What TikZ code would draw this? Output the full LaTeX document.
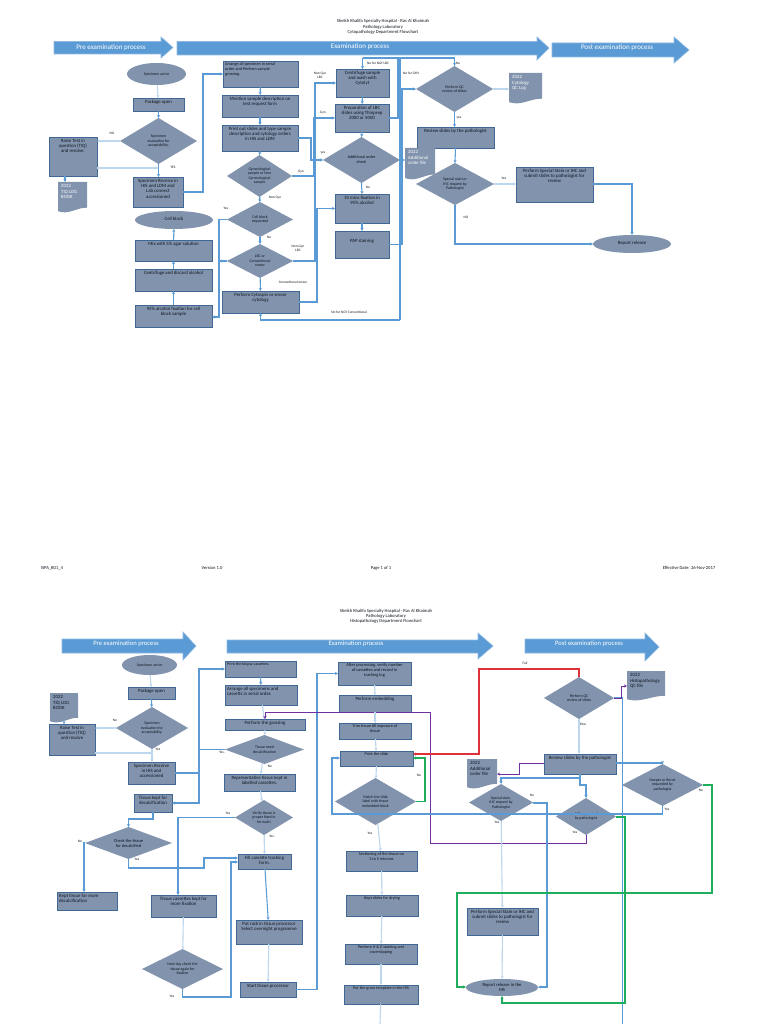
\documentclass[tikz,border=0pt]{standalone}
\usepackage{fontspec}
\setmainfont{Carlito}
\usetikzlibrary{shapes.geometric,arrows.meta}
\definecolor{boxfill}{HTML}{8193AD}
\definecolor{boxedge}{HTML}{3F6894}
\definecolor{bandblue}{HTML}{5B9BD5}
\definecolor{bandedge}{HTML}{8DB9E2}
\definecolor{linkblue}{HTML}{5B9BD5}
\definecolor{linklight}{HTML}{BDD7EE}
\definecolor{linkred}{HTML}{E0303A}
\definecolor{linkpurple}{HTML}{7030A0}
\definecolor{linkgreen}{HTML}{1FAE5C}
\definecolor{inktext}{HTML}{10161F}
\tikzset{
  boxshape/.style={rectangle,draw=boxedge,fill=boxfill,line width=.8pt,inner sep=0pt,outer sep=0pt},
  diashape/.style={diamond,fill=boxfill,inner sep=0pt,outer sep=0pt},
  ellshape/.style={ellipse,fill=boxfill,inner sep=0pt,outer sep=0pt},
  docshape/.style={rectangle,inner sep=0pt,outer sep=0pt},
  boxtxt/.style={font=\fontsize{4.8}{5.4}\selectfont,text=inktext,align=center,inner sep=1pt,yshift=-.5pt},
  smalltxt/.style={font=\fontsize{3.9}{4.5}\selectfont,text=inktext,align=center,inner sep=0pt},
  tagtxt/.style={font=\fontsize{3.5}{4.1}\selectfont,text=inktext,align=center,inner sep=0pt},
  headtxt/.style={font=\fontsize{4.6}{5.2}\selectfont,text=inktext,align=center,inner sep=0pt},
  bandtxt/.style={font=\fontsize{7}{8}\selectfont,text=white,inner sep=0pt},
  link/.style={draw=linkblue,line width=1.05pt,-{Stealth[length=3pt,width=3pt]}},
  plainlink/.style={draw=linkblue,line width=1.05pt},
  lightlink/.style={draw=linklight,line width=1.1pt,-{Stealth[length=3pt,width=3pt]}},
  redlink/.style={draw=linkred,line width=1.1pt,-{Stealth[length=3pt,width=3pt]}},
  purplelink/.style={draw=linkpurple,line width=1pt,-{Stealth[length=3pt,width=3pt]}},
  greenlink/.style={draw=linkgreen,line width=1.05pt,-{Stealth[length=3pt,width=3pt]}},
}
\newcommand\getgeo[4]{\pgfmathsetmacro\cx{(#1+#3)/2}\pgfmathsetmacro\cy{(#2+#4)/2}\pgfmathsetmacro\ww{#3-#1}\pgfmathsetmacro\hh{#4-#2}}
% [label options]{name}{x1}{y1}{x2}{y2}{text}
\newcommand\bx[7][]{\getgeo{#3}{#4}{#5}{#6}\node[boxshape,minimum width=\ww pt,minimum height=\hh pt,label={[boxtxt,anchor=north,#1]north:{#7}}] (#2) at (\cx,\cy) {};}
\newcommand\bxl[7][]{\getgeo{#3}{#4}{#5}{#6}\node[boxshape,minimum width=\ww pt,minimum height=\hh pt,label={[boxtxt,align=left,anchor=north west,xshift=1pt,#1]north west:{#7}}] (#2) at (\cx,\cy) {};}
\newcommand\dm[7][]{\getgeo{#3}{#4}{#5}{#6}\node[diashape,minimum width=\ww pt,minimum height=\hh pt,label={[smalltxt,#1]center:{#7}}] (#2) at (\cx,\cy) {};}
\newcommand\el[7][]{\getgeo{#3}{#4}{#5}{#6}\node[ellshape,minimum width=\ww pt,minimum height=\hh pt,label={[smalltxt,#1]center:{#7}}] (#2) at (\cx,\cy) {};}
% document symbol: [text colour]{name}{x1}{y1}{x2}{y2}{text}
\newcommand\docsym[7][white]{\getgeo{#3}{#4}{#5}{#6}%
  \fill[boxfill] (#3,#4) -- (#5,#4) -- (#5,#6-.17*\hh) .. controls (#5-.3*\ww,#6-.2*\hh) and (#3+.35*\ww,#6+.08*\hh) .. (#3,#6-.06*\hh) -- cycle;
  \node[docshape,minimum width=\ww pt,minimum height=\hh pt,label={[boxtxt,align=left,anchor=north west,xshift=2pt,yshift=-1pt,text=#1]north west:{#7}}] (#2) at (\cx,\cy) {};}
% band arrow: {x1}{head x}{body top}{body bottom}{head top}{head bottom}{tip x}{tip y}
\newcommand\band[8]{%
  \filldraw[fill=bandblue,draw=bandedge,line width=.6pt] (#1,#3) -- (#2,#3) -- (#2,#5) -- (#7,#8) -- (#2,#6) -- (#2,#4) -- (#1,#4) -- cycle;}
\newcommand\tagl[4]{\node[tagtxt] (#1) at (#2,#3) {#4};}
\begin{document}
\begin{tikzpicture}[x=1pt,y=-1pt]
\useasboundingbox (0,0) rectangle (768,1024);
\fill[white] (0,0) rectangle (768,1024);

% ---------- titles ----------
\node[headtxt] (title1) at (383,27) {Sheikh Khalifa Specialty Hospital - Ras Al Khaimah\\Pathology Laboratory\\Cytopathology Department Flowchart};
\node[headtxt] (title2) at (386,616.5) {Sheikh Khalifa Specialty Hospital - Ras Al Khaimah\\Pathology Laboratory\\Histopathology Department Flowchart};

% ---------- footer ----------
\node[headtxt] (foot1) at (52,568) {ISPA\_B01\_4};
\node[headtxt] (foot2) at (212,568) {Version 1.0};
\node[headtxt] (foot3) at (381,568) {Page 1 of 1};
\node[headtxt] (foot4) at (689,568) {Effective Date: 26-Nov-2017};

% ---------- bands ----------
\band{54}{161}{41.5}{54}{37}{58}{173}{47.5}
\band{177}{537}{41.5}{55}{37}{60}{549}{48}
\band{552}{674}{43}{57}{37}{63}{689}{50}
\node[bandtxt] (bandA) at (111,47.5) {Pre examination process};
\node[bandtxt] (bandB) at (360,47) {Examination process};
\node[bandtxt] (bandC) at (617,47.5) {Post examination process};
\band{62}{183}{639}{653}{632}{660}{196}{646}
\band{227}{478}{640}{653}{633}{659}{493}{646}
\band{525}{645}{639}{653}{633}{661}{659}{647}
\node[bandtxt,font=\fontsize{6.6}{8}\selectfont] (bandD) at (126,644) {Pre examination process};
\node[bandtxt,font=\fontsize{6.6}{8}\selectfont] (bandE) at (356,644) {Examination process};
\node[bandtxt,font=\fontsize{6.6}{8}\selectfont] (bandF) at (589,644) {Post examination process};

% ========== TOP FLOWCHART ==========
\el{tArrive}{127}{63}{186}{85}{Specimen arrive}
\bx{tPack}{133}{98}{184}{111}{Package open}
\dm{tEval}{120}{118}{197}{164}{Specimen\\evaluation for\\acceptability.}
\bx{tRaise}{49}{137}{97}{176}{Raise Test in\\question (TIQ)\\and resolve.}
\docsym{tLog}{58}{182}{87}{213}{2022\\ TIQ LOG\\BOOK}
\bx{tRecv}{133}{177}{183}{207}{Specimen Receive in\\HIS and LDM and\\Lab connect\\accessioned}
\el[font=\fontsize{4.8}{5.4}\selectfont,yshift=1pt]{tCell}{135}{211}{213}{229}{Cell block}
\bx{tMix}{135}{240}{212}{261}{Mix with 5\% agar solution}
\bx{tCent}{135}{269}{212}{291}{Centrifuge and discard alcohol}
\bx{tFix}{135}{305}{212}{327}{95\% alcohol fixation for cell\\block sample}
\bxl[font=\fontsize{4.2}{4.8}\selectfont]{tArr}{223}{61}{298}{87}{Arrange all specimen in serial\\order and Perform sample\\grossing.}
\bx{tMent}{222}{95}{298}{117}{Mention sample description on\\test request form}
\bx{tPrint}{222}{125}{298}{151}{Print out slides and type sample\\description and cytology orders\\in HIS and LDM}
\dm{tGyn}{227}{155}{292}{197}{Gynecological\\sample or Non\\Gynecological\\sample}
\dm{tBlock}{227}{202}{293}{237}{Cell block\\requested}
\dm{tLbc}{227}{244}{293}{278}{LBC or\\Conventional\\smear}
\bx{tCyto}{222}{291}{299}{313}{Perform Cytospin or smear\\cytology}
\bx{tWash}{336}{69}{389}{97}{Centrifuge sample\\and wash with\\Cytolyt}
\bx{tPrep}{335}{104}{389}{132}{Preparation of LBC\\slides using Thinprep\\2000 or 5000}
\dm[font=\fontsize{4.2}{4.9}\selectfont]{tAdd}{323}{137}{400}{183}{Additional order\\check}
\bx{tTen}{335}{194}{389}{223}{10 mins fixation in\\95\% alcohol}
\bx[yshift=-6pt]{tPap}{335}{231}{389}{258}{PAP staining}
\dm{tQc}{416}{66}{493}{112}{Perform QC\\review of slides}
\docsym{tQcLog}{509}{73}{542}{104}{2022\\Cytology\\QC Log}
\bx{tRev}{417}{127}{494}{148}{Review slides by the pathologist}
\docsym{tOrder}{405}{148}{435}{180}{2022\\Additional\\order file}
\dm{tStain}{416}{163}{494}{205}{Special stain or\\IHC request by\\Pathologist}
\bx{tSpec}{516}{167}{593}{202}{Perform Special Stain or IHC and\\submit slides to pathologist for\\review}
\el[font=\fontsize{4.8}{5.4}\selectfont,yshift=1pt]{tRep}{593}{235}{671}{253}{Report release}

\draw[lightlink] (tArrive) -- (tPack);
\draw[link] (tPack) -- (tEval);
\draw[lightlink] (tEval) -- (tRaise.east |- tEval);
\draw[link] (tEval) -- (tEval |- tRecv.north);
\draw[lightlink] (tRaise.east |- 0,168) -- (tEval |- 0,168);
\draw[link] (tRaise.south) ++(-8,0) -- ++(0,6);
\draw[link] (tRecv.east) -- ++(20,0) |- (tArr.west);
\draw[link] (tArr) -- (tMent);
\draw[link] (tMent) -- (tPrint);
\draw[link] (tPrint.south) -- (tGyn.north);
\draw[link] (tGyn) -- (tBlock);
\draw[link] (tBlock) -- (tLbc);
\draw[link] (tLbc) -- (tCyto);
\draw[link] (tPrint.east) -- ++(13,0) |- (tAdd.west);
\draw[link] (tGyn.east) -- ++(22,0) |- (tPrep.west);
\draw[link] (tLbc.east) -- ++(22,0) |- (tWash.west);
\draw[link] (tCyto.east) -- ++(18,0) |- (tTen.west);
\draw[link] (tBlock.west) -- ++(-8,0) |- (tFix.east |- 0,317);
\draw[link] (tLbc.west) -- ++(-8,0);
\draw[link] (tFix) -- (tCent);
\draw[link] (tCent) -- (tMix);
\draw[link] (tMix) -- (tCell);
\coordinate (tCorner) at (400,320);
\draw[link] (tCorner) -| (tCyto.south);
\draw[plainlink] (tCorner) -- (400,58);
\draw[link] (tWash.north |- 0,58) -- (tWash.north);
\draw[plainlink] (tWash.north |- 0,58) -- (tQc.north |- 0,58);
\draw[link] (tQc.north |- 0,58) -- (tQc.north);
\draw[plainlink] (tPrep.east) -- ++(9,0) -- (398,58);
\draw[link] (tPap.east) -- ++(13,0) |- (tQc.west);
\draw[link] (tWash) -- (tPrep);
\draw[link] (tPrep.south) -- (tAdd.north);
\draw[link] (tAdd.south) -- (tTen.north);
\draw[link] (tTen) -- (tPap);
\draw[link] (tAdd.east) -- (tOrder.west |- tAdd);
\draw[lightlink] (tQc) -- (tQcLog.west |- tQc);
\draw[link] (tQc) -- (tQc |- tRev.north);
\draw[link] (tRev.south) -- (tStain.north);
\draw[lightlink] (tStain.east) -- (tSpec.west |- tStain);
\draw[link] (tSpec.east |- 0,184) -| (tRep.north);
\draw[link] (tStain.south) |- (tRep.west);

\tagl{nNo}{112}{133}{NO}
\tagl{nYes}{173}{167}{YES}
\tagl{nNon}{275}{198}{Non Gyn}
\tagl{nYesA}{226}{208}{Yes}
\tagl{nNoA}{269}{237}{No}
\tagl{nGyn}{301}{172}{Gyn}
\tagl{nLbcA}{298}{248}{Non-Gyn\\LBC}
\tagl{nConv}{293}{282}{Conventional smear}
\tagl{nLbcB}{320}{75}{Non Gyn\\LBC}
\tagl{nGynB}{323}{113}{Gyn}
\tagl{nYesB}{323}{153}{yes}
\tagl{nNoB}{368}{187}{No}
\tagl{nNgy}{378}{63}{No for NGY LBC}
\tagl{nGynC}{411}{73}{No for GYN}
\tagl{nNoC}{458}{63}{No}
\tagl{nYesC}{459}{118}{yes}
\tagl{nYesD}{504}{178}{Yes}
\tagl{nNoD}{466}{217}{NO}
\tagl{nConvB}{349}{312}{No for NGY Conventional}

% ========== BOTTOM FLOWCHART ==========
\el{bArrive}{122}{655}{177}{675}{Specimen arrive}
\bx{bPack}{128}{687}{175}{699}{Package open}
\dm{bEval}{116}{707}{188}{749}{Specimen\\evaluation for\\acceptability.}
\docsym[inktext]{bLog}{50}{693}{78}{723}{2022\\ TIQ LOG\\BOOK}
\bx{bRaise}{49}{724}{95}{755}{Raise Test in\\question (TIQ)\\and resolve}
\bx{bRecv}{128}{762}{175}{784}{Specimen Receive\\in HIS and\\accessioned}
\bx{bDecal}{134}{794}{172}{812}{Tissue kept for\\decalcification}
\dm[font=\fontsize{4.4}{5}\selectfont]{bCheck}{85}{827}{172}{859}{Check the tissue\\for decalcified}
\bxl{bMore}{57}{892}{117}{910}{Kept tissue for more\\decalcification}
\bx{bCass}{151}{895}{216}{917}{Tissue cassettes kept for\\more fixation}
\dm{bNext}{142}{949}{223}{989}{Next day check the\\tissue again for\\fixation}
\bxl[font=\fontsize{4}{4.6}\selectfont]{bBiop}{225}{661}{296}{677}{Print the biopsy cassettes.}
\bxl{bArr}{225}{685}{297}{705}{Arrange all specimens and\\cassetts in serial order.}
\bx{bGross}{225}{719}{305}{730}{Perform the grossing}
\dm{bNeed}{225}{735}{304}{764}{Tissue need\\decalcification}
\bx{bRepr}{224}{774}{295}{791}{Representative tissue kept in\\labelled cassettes.}
\dm{bVer}{235}{800}{293}{835}{Verify tissue is\\proper fixed in\\formalin}
\bx{bFill}{238}{854}{291}{869}{Fill cassette tracking\\form.}
\bx{bRack}{236}{920}{302}{944}{Put rack in tissue processor\\Select overnight programme}
\bx{bStart}{240}{982}{296}{997}{Start tissue processor}
\bx[font=\fontsize{4.4}{5}\selectfont]{bAfter}{338}{662}{411}{685}{After processing, verify number\\of cassettes and record in\\tracking log}
\bx{bEmb}{339}{695}{411}{712}{Perform embedding}
\bx[font=\fontsize{4.2}{4.8}\selectfont]{bTrim}{339}{723}{411}{739}{Trim tissue till exposure of\\tissue}
\bx[font=\fontsize{4.2}{4.8}\selectfont]{bSlide}{340}{751}{413}{766}{Print the slide}
\dm{bMatch}{335}{778}{416}{825}{Match the slide\\label with tissue\\embedded block}
\bx[font=\fontsize{4.2}{4.8}\selectfont]{bSect}{346}{851}{417}{871}{Sectioning of the tissue on\\3 to 5 microns}
\bx[font=\fontsize{4.2}{4.8}\selectfont]{bDry}{346}{895}{418}{916}{Kept slides for drying}
\bx[font=\fontsize{4.2}{4.8}\selectfont]{bHe}{345}{944}{417}{964}{Perform H \& E staining and\\coverslipping}
\bx[font=\fontsize{4.2}{4.8}\selectfont]{bTmpl}{344}{985}{418}{1004}{Put the gross template in the HIS}
\dm{bQc}{544}{677}{614}{719}{Perform QC\\review of slides}
\docsym[inktext]{bQcFile}{627}{671}{665}{701}{2022\\Histopathology\\QC file}
\bx{bRev}{544}{754}{616}{774}{Review slides by the pathologist}
\docsym[inktext]{bOrder}{467}{759}{497}{789}{2022\\Additional\\order file}
\dm{bStain}{469}{784}{533}{821}{Special stain,\\IHC request by\\Pathologist}
\dm{bMb}{556}{798}{616}{835}{MB requested\\by pathologist}
\dm{bDeep}{622}{764}{703}{806}{Deeper or Recut\\requested by\\pathologist}
\bx{bSpec}{467}{908}{538}{935}{Perform Special Stain or IHC and\\submit slides to pathologist for\\review}
\el[font=\fontsize{4.6}{5.2}\selectfont]{bRep}{466}{979}{538}{996}{Report release in the\\HIS}

\draw[lightlink] (bArrive) -- (bPack);
\draw[link] (bPack) -- (bEval);
\draw[lightlink] (bEval) -- (bRaise.east |- bEval);
\draw[lightlink] (bEval) -- (bEval |- bRecv.north);
\draw[lightlink] (bRaise.east |- 0,753) -- (bEval |- 0,753);
\draw[plainlink] (bRecv.east) -- (199,773) |- (bNeed.west);
\draw[link] (199,773) |- (bBiop.west);
\draw[link] (199,773) |- (bDecal.east);
\draw[link] (bDecal.south) -- ++(0,7) -| (bCheck.north);
\draw[link] (bCheck.west) -- (84,843) -- (84,892);
\draw[link] (bCheck.south) -- ++(0,9) -| (204,858) -- (bFill.west |- 0,858);
\draw[link] (bVer.west) -- (178,817.5) -- (178,895);
\draw[link] (bBiop) -- (bArr);
\draw[lightlink] (bArr) -- (bGross);
\draw[lightlink] (bGross) -- (bNeed);
\draw[lightlink] (bNeed) -- (bRepr);
\draw[lightlink] (bRepr) -- (bVer);
\draw[lightlink] (bVer) -- (bFill);
\draw[link] (bFill) -- (bRack);
\draw[lightlink] (bRack) -- (bStart);
\draw[lightlink] (bCass) -- (bNext);
\draw[link] (bNext.south) -- ++(0,8) -| (231,862) -- (bFill.west |- 0,862);
\draw[link] (bStart.east) -- ++(21,0) |- (bAfter.west);
\draw[purplelink] (bMb.south) -- ++(0,8) -| (430,712) -| (bGross.north);
\draw[lightlink] (bAfter) -- (bEmb);
\draw[lightlink] (bEmb) -- (bTrim);
\draw[lightlink] (bTrim) -- (bSlide);
\draw[lightlink] (bSlide) -- (bMatch);
\draw[lightlink] (bMatch) -- (bSect);
\draw[lightlink] (bSect) -- (bDry);
\draw[lightlink] (bDry) -- (bHe);
\draw[lightlink] (bHe) -- (bTmpl);
\draw[linklight,line width=1.1pt] (bTmpl) -- (380,1024);
\draw[greenlink] (bMatch.east) -- ++(9,0) |- (bSlide.east |- 0,758);
\draw[redlink] (bQc.north) -- ++(0,-8) -| (479,754) -- (bSlide.east |- 0,754);
\draw[link] (bDeep.south) -- ++(0,8) -| (332,758) -- (bSlide.west |- 0,758);
\draw[link] (bStain.east |- 0,803) -- (547,803) |- (bRep.east |- 0,987);
\draw[lightlink] (bStain) -- (bSpec);
\draw[lightlink] (bSpec) -- (bRep);
\draw[link] (bRev.south) -- ++(0,11) -| (bMb.north);
\draw[link] (579,778) -| (bStain.north);
\draw[link] (bRev.east |- 0,763) -- (bDeep.north |- 0,763) -- (bDeep.north);
\draw[purplelink] (bRev.west |- 0,763) -- (519,763) |- (bOrder.east |- 0,774);
\draw[plainlink] (bQc.east) -- (622.8,698) -- (622.8,1024);
\draw[purplelink] (bQc.east) -- ++(7,0) |- (bQcFile.west |- 0,686);
\draw[greenlink] (bMb.east |- 0,817) -- (625,817) |- (502,1003) -- (bRep.south);
\draw[greenlink] (bDeep.east) -- ++(9,0) |- (457,893) |- (bRep.west |- 0,987);
\draw[link] (bLog.south) -- (bLog.south |- bRaise.north);
\draw[lightlink] (bQc) -- (bQc |- bRev.north);

\tagl{mNo}{115}{720}{No}
\tagl{mYes}{158}{749}{Yes}
\tagl{mYesA}{222}{752}{Yes.}
\tagl{mNoA}{270}{766}{No}
\tagl{mYesB}{228}{813}{Yes}
\tagl{mYesC}{272}{836}{Yes.}
\tagl{mNoB}{80}{841}{No}
\tagl{mYesD}{137}{859}{Yes}
\tagl{mYesE}{172}{996}{Yes}
\tagl{mNoC}{419}{775}{No}
\tagl{mYesF}{370}{833}{Yes}
\tagl{mFail}{525}{663}{Fail}
\tagl{mPass}{583}{724}{Pass}
\tagl{mNoD}{532}{795}{No}
\tagl{mYesG}{497}{822}{Yes}
\tagl{mYesH}{575}{832}{Yes}
\tagl{mYesI}{667}{809}{Yes}
\tagl{mNoE}{701}{790}{No}
\end{tikzpicture}
\end{document}
